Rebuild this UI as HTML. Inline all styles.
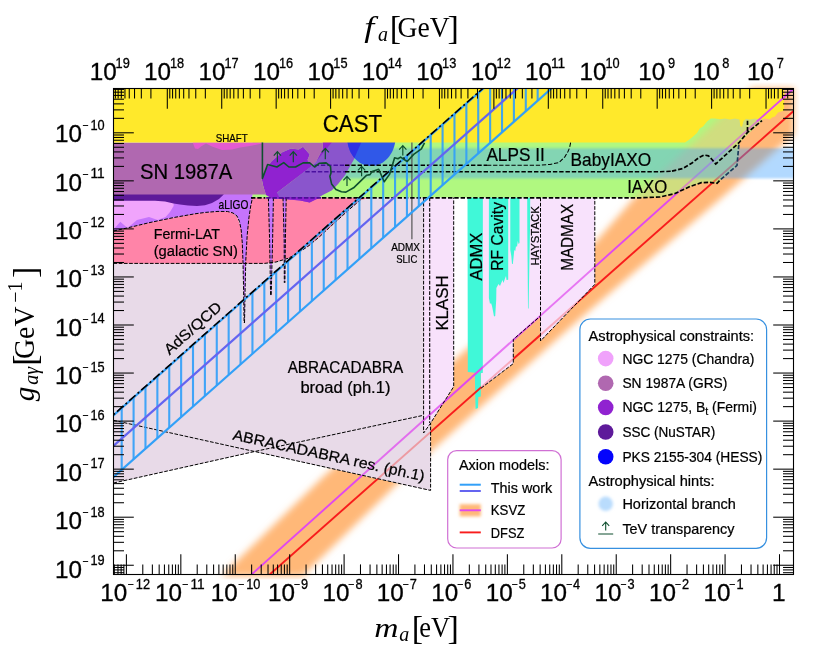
<!DOCTYPE html>
<html lang="en"><head><meta charset="utf-8"><title>Axion-photon coupling</title>
<style>
html,body{margin:0;padding:0;background:#fff;}
body{width:823px;height:654px;overflow:hidden;}
svg{display:block;font-family:'Liberation Sans', 'DejaVu Sans', sans-serif;}
.lbl text{stroke:#000;stroke-width:0.22px;}
</style></head><body>
<svg width="823" height="654" viewBox="0 0 823 654">
<defs>
<clipPath id="fr"><rect x="113.5" y="88.5" width="680.0" height="486.0"/></clipPath>
<clipPath id="fr2"><rect x="113.5" y="82.5" width="686.0" height="497.0"/></clipPath>
<filter id="b3" x="-5%" y="-5%" width="110%" height="110%"><feGaussianBlur stdDeviation="3.6"/></filter>
<filter id="b15" x="-5%" y="-20%" width="110%" height="140%"><feGaussianBlur stdDeviation="0 1.3"/></filter>
<filter id="b2" x="-30%" y="-30%" width="160%" height="160%"><feGaussianBlur stdDeviation="1.5"/></filter>
<clipPath id="cgreen"><polygon points="252.5,197.6 252.5,110.0 770.0,110.0 762.0,120.7 739.0,142.7 737.0,165.4 720.8,179.4 717.0,183.3 709.0,182.3 701.3,182.7 690.0,186.5 675.0,193.5 660.0,197.0 640.0,197.6"/></clipPath>
</defs>
<rect x="0" y="0" width="823" height="654" fill="#fff"/>
<g clip-path="url(#fr2)">
<polygon points="221.5,576.0 223.0,574.5 323.0,477.0 463.6,352.0 596.4,241.0 634.0,198.0 751.4,88.5 752.0,88.0 794.0,88.0 794.0,134.6 793.5,135.0 719.5,199.5 583.0,316.0 430.0,452.0 304.0,574.5 305.5,576.0" fill="#ffb878" filter="url(#b3)"/>
</g>
<g clip-path="url(#fr)">
<polygon points="113.5,197.6 423.6,197.6 423.6,433.0 430.6,423.5 430.6,490.4 254.7,451.5 113.5,483.0" fill="#e8dae8" />
<polygon points="423.6,197.6 453.7,197.6 453.7,386.6 430.4,423.5 423.6,433.0" fill="#f8e2fc" />
<polygon points="482.8,197.6 594.8,197.6 594.8,284.4 540.5,341.0 540.5,316.0 513.3,339.4 513.3,363.6 481.0,388.2 481.0,373.0 482.8,373.0" fill="#f8e2fc" />
<polygon points="467.5,197.6 483.0,197.6 483.0,372.8 480.8,373.5 480.8,396.6 478.3,397.0 478.0,408.0 475.6,409.0 475.3,397.0 474.8,372.8 467.8,372.0" fill="#40f8d8" />
<polyline points="249.4,592.4 800.0,105.3" fill="none" stroke="#f81c1c" stroke-width="1.9" />
<polygon points="113.5,197.6 423.6,197.6 423.6,433.0 430.6,423.5 430.6,490.4 254.7,451.5 113.5,483.0" fill="#e8dae8" fill-opacity="0.55"/>
<polygon points="423.6,197.6 453.7,197.6 453.7,386.6 430.4,423.5 423.6,433.0" fill="#f8e2fc" fill-opacity="0.6"/>
<polygon points="482.8,197.6 594.8,197.6 594.8,284.4 540.5,341.0 540.5,316.0 513.3,339.4 513.3,363.6 481.0,388.2 481.0,373.0 482.8,373.0" fill="#f8e2fc" fill-opacity="0.6"/>
<polyline points="231.4,592.6 800.0,82.9" fill="none" stroke="#e048f0" stroke-width="1.9" />
<polygon points="113.5,197.6 423.6,197.6 423.6,433.0 430.6,423.5 430.6,490.4 254.7,451.5 113.5,483.0" fill="#e8dae8" fill-opacity="0.25"/>
<polygon points="423.6,197.6 453.7,197.6 453.7,386.6 430.4,423.5 423.6,433.0" fill="#f8e2fc" fill-opacity="0.2"/>
<polygon points="482.8,197.6 594.8,197.6 594.8,284.4 540.5,341.0 540.5,316.0 513.3,339.4 513.3,363.6 481.0,388.2 481.0,373.0 482.8,373.0" fill="#f8e2fc" fill-opacity="0.3"/>
<polygon points="488.9,197.6 508.2,197.6 508.2,279.8 506.5,280.0 506.0,276.0 505.0,278.5 503.5,283.0 502.5,280.0 500.0,286.0 498.5,284.0 496.4,288.0 496.2,300.0 495.2,316.0 494.0,316.5 493.0,311.0 492.0,306.0 491.0,303.0 490.0,304.0 488.9,298.0" fill="#40f8d8" />
<polygon points="510.3,197.6 519.5,197.6 519.5,243.0 518.6,244.0 517.8,241.0 517.0,247.0 516.0,246.0 515.3,251.0 514.3,250.0 513.6,257.0 512.8,264.0 512.0,264.0 511.3,256.0 510.3,250.0" fill="#40f8d8" />
<polygon points="527.2,197.6 530.2,197.6 530.0,230.0 529.4,262.0 528.6,308.5 528.0,308.5 527.6,262.0 527.3,230.0" fill="#40f8d8" />
<polygon points="113.5,231.0 127.0,228.0 150.0,222.5 175.0,217.3 195.0,213.8 205.4,212.4 218.0,211.4 227.6,211.5 233.0,213.0 237.0,217.0 240.0,225.0 252.5,197.6 372.0,197.6 360.0,200.3 350.0,208.8 331.3,225.8 320.0,236.3 309.0,245.6 298.0,253.0 288.4,258.2 276.0,262.0 264.5,263.4 113.5,263.4" fill="#ff84a8" />
<polygon points="113.5,194.0 253.0,194.0 252.5,197.6 250.7,206.0 248.9,218.0 247.2,235.0 245.8,260.0 245.1,290.0 244.5,323.0 244.1,323.0 243.6,290.0 243.0,262.0 242.3,243.0 241.2,230.0 239.5,221.5 237.0,216.0 233.0,213.0 227.6,211.5 218.0,211.4 205.4,212.4 195.0,213.8 175.0,217.3 150.0,222.5 127.0,228.0 113.5,231.0" fill="#c574fc" />
<polygon points="268.4,197.6 273.4,197.6 272.6,240.0 271.3,295.4 270.7,295.4 269.6,240.0" fill="#c574fc" />
<polygon points="283.0,197.6 286.2,197.6 285.5,240.0 284.7,282.8 284.2,282.8 283.6,240.0" fill="#c574fc" />
<polygon points="113.5,198.0 173.6,198.0 173.6,206.0 170.0,212.0 165.6,217.0 157.7,220.0 149.0,217.0 137.0,220.0 127.5,228.0 120.3,221.8 113.5,229.5" fill="#f0a4fc" />
<polygon points="252.5,197.6 252.5,110.0 770.0,110.0 762.0,120.7 739.0,142.7 737.0,165.4 720.8,179.4 717.0,183.3 709.0,182.3 701.3,182.7 690.0,186.5 675.0,193.5 660.0,197.0 640.0,197.6" fill="#b0f880" />
<g clip-path="url(#cgreen)"><polygon points="221.5,576.0 223.0,574.5 323.0,477.0 463.6,352.0 596.4,241.0 634.0,198.0 751.4,88.5 752.0,88.0 794.0,88.0 794.0,134.6 793.5,135.0 719.5,199.5 583.0,316.0 430.0,452.0 304.0,574.5 305.5,576.0" fill="#fcb87c" fill-opacity="0.42" filter="url(#b3)"/></g>
<g clip-path="url(#cgreen)" opacity="0.55">
<polyline points="600.0,262.2 800.0,82.9" fill="none" stroke="#e048f0" stroke-width="1.9" />
<polyline points="600.0,282.3 800.0,105.3" fill="none" stroke="#f81c1c" stroke-width="1.9" />
</g>
<rect x="100" y="148.2" width="720" height="30.2" fill="#40a0ff" fill-opacity="0.4" filter="url(#b15)"/>
<polygon points="276.9,192.7 311.9,165.9 316.2,161.5 322.8,148.9 322.8,140.0 362.3,140.0 353.6,159.9 345.0,175.2 338.1,183.9 331.6,190.5 322.8,194.9 316.0,199.0 309.7,202.5 300.0,200.5 285.0,199.0 272.0,198.0" fill="#8a55cc" />
<polygon points="261.6,178.5 266.0,169.0 271.4,161.5 276.5,157.0 282.3,152.2 291.0,148.4 298.7,149.5 303.1,146.7 309.7,154.4 307.5,159.9 311.9,165.9 276.9,192.7 280.0,198.5 272.0,198.5 265.9,194.9 263.2,186.1" fill="#9022d0" />
<polygon points="322.8,140.0 333.7,140.0 316.2,161.5 322.8,148.9" fill="#9022d0" />
<polygon points="266.0,197.0 322.0,197.0 316.0,199.4 309.7,202.5 300.0,200.5 285.0,199.2 272.0,198.6" fill="#9022d0" />
<path d="M347.6,140 L347.6,142.4 C349,153 357,165.9 371.1,165.9 C385,165.9 393.5,153 395.1,142.4 L395.1,140 Z" fill="#3058e8"/>
<clipPath id="cblob"><path d="M347.6,140 L347.6,142.4 C349,153 357,165.9 371.1,165.9 C385,165.9 393.5,153 395.1,142.4 L395.1,140 Z"/></clipPath>
<g clip-path="url(#cblob)"><polygon points="340,140 362.3,140 353.6,159.9 345,175.2 340,175" fill="#3030e4"/></g>
<polygon points="113.5,190.0 223.7,190.0 223.7,194.4 219.0,199.0 212.0,203.0 205.0,205.3 197.0,206.0 188.0,205.6 180.0,204.6 173.6,203.6 165.0,201.6 155.0,200.8 113.5,200.7" fill="#5e1a9a" />
<polygon points="113.5,142.4 322.8,142.4 322.8,148.9 316.2,161.5 311.9,165.9 307.5,159.9 309.7,154.4 303.1,146.7 298.7,149.5 291.0,148.4 282.3,152.2 276.5,157.0 271.4,161.5 266.0,169.0 261.6,178.5 263.2,186.1 265.9,194.4 113.5,194.4" fill="#b068b0" />
<polygon points="192.7,142.4 262.0,142.4 262.0,143.5 250.0,146.0 240.0,147.5 232.0,149.5 222.0,150.0 212.0,146.5 206.0,143.5 201.0,146.5 198.0,149.0 195.0,148.5" fill="#e45ad0" />
<polygon points="113.5,80.0 784.0,80.0 784.0,110.5 781.0,111.5 778.0,112.5 775.0,116.5 772.0,117.5 770.0,119.2 765.0,118.6 760.0,119.6 755.0,118.6 750.0,119.5 746.0,118.8 743.5,121.0 742.0,127.0 740.3,126.0 739.5,119.5 735.0,118.6 730.0,119.4 725.0,118.4 720.0,119.3 715.0,118.6 710.8,118.6 707.0,121.5 703.0,126.5 699.7,128.6 697.0,133.0 692.0,137.5 688.0,140.5 685.0,142.4 113.5,142.4" fill="#ffe92b" />
</g>
<g clip-path="url(#fr)">
<polyline points="113.5,483.0 254.7,451.5 423.5,415.3" fill="none" stroke="#000" stroke-width="1.0" stroke-dasharray="3.7 1.5" />
<polyline points="113.5,420.3 430.6,490.4 430.6,423.0" fill="none" stroke="#000" stroke-width="1.0" stroke-dasharray="3.7 1.5" />
<polyline points="423.6,197.6 423.6,433.0 430.4,423.5 453.7,386.6 453.7,197.6" fill="none" stroke="#000" stroke-width="1.0" stroke-dasharray="3.7 1.5" />
<polyline points="429.7,197.6 429.7,423.0" fill="none" stroke="#000" stroke-width="1.1" stroke-dasharray="3.7 1.5" />
<polyline points="481.0,388.2 513.3,363.6 513.3,339.4 540.5,316.0" fill="none" stroke="#000" stroke-width="1.0" stroke-dasharray="3.7 1.5" />
<polyline points="540.5,197.6 540.5,341.0 594.8,284.4 594.8,197.6" fill="none" stroke="#000" stroke-width="1.0" stroke-dasharray="3.7 1.5" />
<polyline points="113.5,231.0 127.0,228.0 150.0,222.5 175.0,217.3 195.0,213.8 205.4,212.4 218.0,211.4 227.6,211.5 233.0,213.0 237.0,216.0 239.5,221.5 241.2,230.0 242.3,243.0 243.0,262.0 243.6,290.0 244.1,323.0" fill="none" stroke="#000" stroke-width="1.0" stroke-dasharray="3.7 1.5" />
<polyline points="244.5,323.0 245.1,290.0 245.8,260.0 247.2,235.0 248.9,218.0 250.7,206.0 252.5,197.6" fill="none" stroke="#000" stroke-width="1.0" stroke-dasharray="3.7 1.5" />
<polyline points="113.5,263.4 264.5,263.4 276.0,262.0 288.4,258.2 298.0,253.0 309.0,245.6 320.0,236.3 331.3,225.8 350.0,208.8 360.0,200.3 363.0,198.0" fill="none" stroke="#000" stroke-width="1.0" stroke-dasharray="3.7 1.5" />
<polyline points="268.4,197.6 269.6,240.0 270.6,295.4" fill="none" stroke="#000" stroke-width="1.0" stroke-dasharray="3.7 1.5" />
<polyline points="273.4,197.6 272.6,240.0 271.2,295.4" fill="none" stroke="#000" stroke-width="1.0" stroke-dasharray="3.7 1.5" />
<polyline points="283.0,197.6 284.2,240.0 284.3,282.8" fill="none" stroke="#000" stroke-width="1.0" stroke-dasharray="3.7 1.5" />
<polyline points="286.2,197.6 285.4,240.0 284.9,282.8" fill="none" stroke="#000" stroke-width="1.0" stroke-dasharray="3.7 1.5" />
<polyline points="411.9,142.4 411.9,239.2" fill="none" stroke="#555" stroke-width="1.2" />
<polyline points="251.0,197.8 265.3,197.8" fill="none" stroke="#000" stroke-width="1.7" stroke-dasharray="4.4 1.9" />
<polyline points="265.3,197.8 322.0,197.8" fill="none" stroke="#4b0f96" stroke-width="1.7" stroke-dasharray="4.4 1.9" stroke-dashoffset="-0.9"/>
<polyline points="322.0,197.8 640.0,197.8 660.0,197.0 675.0,193.5 690.0,186.5 701.3,182.7 709.0,182.3 717.0,183.3 720.8,179.4" fill="none" stroke="#000" stroke-width="1.7" stroke-dasharray="4.4 1.9" />
<polyline points="720.8,179.4 737.0,165.4 739.0,142.7" fill="none" stroke="#1a3c5c" stroke-width="1.7" stroke-dasharray="4.4 1.9" />
<polyline points="305.3,171.7 345.0,171.7" fill="none" stroke="#4a10a0" stroke-width="1.6" stroke-dasharray="4.4 1.9" />
<polyline points="345.0,171.7 660.0,171.7 672.0,171.2" fill="none" stroke="#000" stroke-width="1.55" stroke-dasharray="4.4 1.9" />
<polyline points="672.0,171.2 683.0,168.5 692.0,163.0 699.0,157.5 704.0,155.0 708.5,155.8 712.0,159.5 715.7,164.0 739.0,142.7 747.5,132.4 762.0,120.7" fill="none" stroke="#000" stroke-width="1.7" stroke-dasharray="4.4 1.9" />
<polyline points="747.5,120.7 747.5,132.4" fill="none" stroke="#000" stroke-width="1.7" stroke-dasharray="4.4 1.9" />
<polyline points="314.6,165.2 345.0,165.2" fill="none" stroke="#4a10a0" stroke-width="1.6" stroke-dasharray="4.4 1.9" />
<polyline points="345.0,165.2 487.0,165.2" fill="none" stroke="#000" stroke-width="1.6" stroke-dasharray="4.4 1.9" />
<polyline points="487.0,165.2 540.0,165.2 550.0,164.4 559.0,162.5 565.0,156.6 568.0,151.5 569.5,148.0 570.7,142.4" fill="none" stroke="#000" stroke-width="1.05" stroke-dasharray="4.3 1.8" />
<polyline points="757.0,121.4 800.0,82.9" fill="none" stroke="#e048f0" stroke-width="1.8" />
<g stroke="#32a0f8" stroke-width="2.1" stroke-opacity="0.92">
<line x1="121.70" y1="408.1" x2="121.70" y2="469.7"/>
<line x1="133.59" y1="397.6" x2="133.59" y2="459.2"/>
<line x1="145.47" y1="387.1" x2="145.47" y2="448.6"/>
<line x1="157.36" y1="376.6" x2="157.36" y2="438.1"/>
<line x1="169.24" y1="366.1" x2="169.24" y2="427.5"/>
<line x1="181.12" y1="355.6" x2="181.12" y2="417.0"/>
<line x1="193.01" y1="345.1" x2="193.01" y2="406.5"/>
<line x1="204.89" y1="334.6" x2="204.89" y2="395.9"/>
<line x1="216.78" y1="324.1" x2="216.78" y2="385.4"/>
<line x1="228.67" y1="313.6" x2="228.67" y2="374.8"/>
<line x1="240.55" y1="303.1" x2="240.55" y2="364.3"/>
<line x1="252.44" y1="292.6" x2="252.44" y2="353.7"/>
<line x1="264.32" y1="282.1" x2="264.32" y2="343.2"/>
<line x1="276.20" y1="271.6" x2="276.20" y2="332.6"/>
<line x1="288.09" y1="261.0" x2="288.09" y2="322.1"/>
<line x1="299.98" y1="250.5" x2="299.98" y2="311.6"/>
<line x1="311.86" y1="240.0" x2="311.86" y2="301.0"/>
<line x1="323.75" y1="229.5" x2="323.75" y2="290.5"/>
<line x1="335.63" y1="219.0" x2="335.63" y2="279.9"/>
<line x1="347.51" y1="208.5" x2="347.51" y2="269.4"/>
<line x1="359.40" y1="198.0" x2="359.40" y2="258.8"/>
<line x1="371.29" y1="187.5" x2="371.29" y2="248.3"/>
<line x1="383.17" y1="177.0" x2="383.17" y2="237.7"/>
<line x1="395.06" y1="166.5" x2="395.06" y2="227.2"/>
<line x1="406.94" y1="156.0" x2="406.94" y2="216.7"/>
<line x1="418.82" y1="145.5" x2="418.82" y2="206.1"/>
<line x1="430.71" y1="135.0" x2="430.71" y2="195.6"/>
<line x1="442.59" y1="124.5" x2="442.59" y2="185.0"/>
<line x1="454.48" y1="114.0" x2="454.48" y2="174.5"/>
<line x1="466.37" y1="103.5" x2="466.37" y2="163.9"/>
<line x1="478.25" y1="93.0" x2="478.25" y2="153.4"/>
<line x1="490.13" y1="82.5" x2="490.13" y2="142.8"/>
<line x1="502.02" y1="72.0" x2="502.02" y2="132.3"/>
<line x1="513.90" y1="61.5" x2="513.90" y2="121.8"/>
<line x1="525.79" y1="51.0" x2="525.79" y2="111.2"/>
<line x1="537.67" y1="40.5" x2="537.67" y2="100.7"/>
<line x1="549.56" y1="30.0" x2="549.56" y2="90.1"/>
</g>
<polyline points="100.0,457.7 560.0,50.8" fill="none" stroke="#6464f0" stroke-width="2.2" />
<polyline points="100.0,427.2 520.0,56.2" fill="none" stroke="#32a0f8" stroke-width="2.2" />
<polyline points="100.0,489.0 600.0,45.4" fill="none" stroke="#32a0f8" stroke-width="2.2" />
<polyline points="105.0,422.2 520.0,55.6" fill="none" stroke="#000" stroke-width="1.6" stroke-dasharray="8.5 2.8 2 2.8" />
<polyline points="262.4,142.4 262.4,178.5 267.6,164.6 276.9,167.0 283.7,162.6 288.9,167.0 295.5,167.0 303.1,162.9 309.7,162.9 314.6,167.0 319.5,163.2 326.1,162.9 330.5,166.4 331.0,173.0 329.9,176.3 331.6,183.9 335.9,189.4 341.4,191.8 345.9,192.1 353.6,187.8 366.7,175.2 370.0,174.6 372.2,171.4 378.7,169.2 384.2,181.7 389.7,174.1 394.6,157.7 397.9,158.8 400.6,157.1 407.2,161.5 413.7,154.4 421.4,148.9 424.5,142.8" fill="none" stroke="#0e4f2e" stroke-width="1.6" stroke-linejoin="round"/>
<path d="M277.4,162.3 V151.7 M273.8,155.7 L277.4,151.7 L281.0,155.7" fill="none" stroke="#0e4f2e" stroke-width="1.2"/>
<path d="M293.3,162.3 V151.7 M289.7,155.7 L293.3,151.7 L296.9,155.7" fill="none" stroke="#0e4f2e" stroke-width="1.2"/>
<path d="M325.3,159.3 V148.4 M321.7,152.4 L325.3,148.4 L328.9,152.4" fill="none" stroke="#0e4f2e" stroke-width="1.2"/>
<path d="M347.0,186.1 V176.3 M343.4,180.3 L347.0,176.3 L350.6,180.3" fill="none" stroke="#0e4f2e" stroke-width="1.2"/>
<path d="M361.6,176.3 V166.4 M358.0,170.4 L361.6,166.4 L365.2,170.4" fill="none" stroke="#0e4f2e" stroke-width="1.2"/>
<path d="M402.8,155.5 V145.7 M399.2,149.7 L402.8,145.7 L406.4,149.7" fill="none" stroke="#0e4f2e" stroke-width="1.2"/>
</g>
<g class="lbl">
<text x="322.7" y="132.3" font-size="24.5" textLength="59.5" lengthAdjust="spacingAndGlyphs" stroke="#000" stroke-width="0.45">CAST</text>
<text x="139.9" y="179.4" font-size="21.4" textLength="92.5" lengthAdjust="spacingAndGlyphs" >SN 1987A</text>
<text x="215.8" y="141.6" font-size="11.2" textLength="31.9" lengthAdjust="spacingAndGlyphs" stroke="#000" stroke-width="0.2">SHAFT</text>
<text x="218.5" y="208.5" font-size="12.2" textLength="29.9" lengthAdjust="spacingAndGlyphs" stroke="#000" stroke-width="0.2">aLIGO</text>
<text x="153.7" y="238.6" font-size="15.2" textLength="66.3" lengthAdjust="spacingAndGlyphs" >Fermi-LAT</text>
<text x="153.7" y="256.2" font-size="15.2" textLength="84.3" lengthAdjust="spacingAndGlyphs" >(galactic SN)</text>
<text x="169.5" y="355.5" font-size="15" textLength="71.0" lengthAdjust="spacingAndGlyphs" transform="rotate(-41.5 169.5 355.5)" >AdS/QCD</text>
<text x="345.4" y="372.6" font-size="15.8" text-anchor="middle" textLength="115.5" lengthAdjust="spacingAndGlyphs" >ABRACADABRA</text>
<text x="345.4" y="392.7" font-size="15.8" text-anchor="middle" textLength="90.0" lengthAdjust="spacingAndGlyphs" >broad (ph.1)</text>
<text x="232.0" y="439.5" font-size="15" textLength="196.0" lengthAdjust="spacingAndGlyphs" transform="rotate(12.3 232.0 439.5)" >ABRACADABRA res. (ph.1)</text>
<text x="405.6" y="251.4" font-size="10.8" text-anchor="middle" textLength="28.9" lengthAdjust="spacingAndGlyphs" stroke="#000" stroke-width="0.2">ADMX</text>
<text x="406.7" y="263.3" font-size="10.8" text-anchor="middle" textLength="21.1" lengthAdjust="spacingAndGlyphs" stroke="#000" stroke-width="0.2">SLIC</text>
<text x="447.7" y="330.6" font-size="17" textLength="55.2" lengthAdjust="spacingAndGlyphs" transform="rotate(-90 447.7 330.6)" >KLASH</text>
<text x="481.8" y="280.4" font-size="17" textLength="47.7" lengthAdjust="spacingAndGlyphs" transform="rotate(-90 481.8 280.4)" >ADMX</text>
<text x="503.3" y="270.8" font-size="16.6" textLength="68.8" lengthAdjust="spacingAndGlyphs" transform="rotate(-90 503.3 270.8)" >RF Cavity</text>
<text x="539.2" y="265.6" font-size="11.8" textLength="59.3" lengthAdjust="spacingAndGlyphs" transform="rotate(-90 539.2 265.6)" stroke="#000" stroke-width="0.15">HAYSTACK</text>
<text x="573.4" y="270.8" font-size="16" textLength="67.0" lengthAdjust="spacingAndGlyphs" transform="rotate(-90 573.4 270.8)" >MADMAX</text>
<text x="486.4" y="161.4" font-size="18.4" textLength="58.3" lengthAdjust="spacingAndGlyphs" >ALPS II</text>
<text x="570.5" y="166.2" font-size="18.2" textLength="80.7" lengthAdjust="spacingAndGlyphs" >BabyIAXO</text>
<text x="627.2" y="193.3" font-size="18.4" textLength="40.0" lengthAdjust="spacingAndGlyphs" >IAXO</text>
<rect x="447.7" y="450.6" width="113.4" height="97.4" rx="9" ry="9" fill="#fff" stroke="#d070d4" stroke-width="1.2"/>
<text x="459.0" y="470.2" font-size="14.6" textLength="90.5" lengthAdjust="spacingAndGlyphs" >Axion models:</text>
<text x="490.8" y="492.8" font-size="14.6" textLength="61.5" lengthAdjust="spacingAndGlyphs" >This work</text>
<text x="490.8" y="515.4" font-size="14.6" textLength="34.5" lengthAdjust="spacingAndGlyphs" >KSVZ</text>
<text x="490.8" y="538.0" font-size="14.6" textLength="33.5" lengthAdjust="spacingAndGlyphs" >DFSZ</text>
<polyline points="459.7,484.7 480.8,484.7" fill="none" stroke="#32a0f8" stroke-width="2" />
<polyline points="459.7,491.0 480.8,491.0" fill="none" stroke="#6464f0" stroke-width="2" />
<rect x="459.7" y="504.2" width="21.1" height="12.2" fill="#ffb878" filter="url(#b2)"/>
<polyline points="459.7,510.3 480.8,510.3" fill="none" stroke="#e048f0" stroke-width="1.9" />
<polyline points="459.7,532.4 480.8,532.4" fill="none" stroke="#f81c1c" stroke-width="1.9" />
<rect x="579.9" y="319" width="186.7" height="229.3" rx="10.5" ry="10.5" fill="#fff" stroke="#3690e0" stroke-width="1.2"/>
<text x="588.6" y="340.5" font-size="14.3" textLength="165.5" lengthAdjust="spacingAndGlyphs" >Astrophysical constraints:</text>
<circle cx="605.7" cy="358.6" r="7.8" fill="#f0a2fb"/>
<text x="622.4" y="363.6" font-size="14.3" textLength="132.0" lengthAdjust="spacingAndGlyphs" >NGC 1275 (Chandra)</text>
<circle cx="605.7" cy="383.2" r="7.8" fill="#b068b0"/>
<text x="622.4" y="388.2" font-size="14.3" textLength="105.0" lengthAdjust="spacingAndGlyphs" >SN 1987A (GRS)</text>
<circle cx="605.7" cy="407.4" r="7.8" fill="#9022d0"/>
<circle cx="605.7" cy="432.0" r="7.8" fill="#5e1a9a"/>
<text x="622.4" y="437.0" font-size="14.3" textLength="93.0" lengthAdjust="spacingAndGlyphs" >SSC (NuSTAR)</text>
<circle cx="605.7" cy="456.7" r="7.8" fill="#0404fc"/>
<text x="622.4" y="461.7" font-size="14.3" textLength="140.0" lengthAdjust="spacingAndGlyphs" >PKS 2155-304 (HESS)</text>
<text x="622.4" y="412.4" font-size="14.3" textLength="134.5" lengthAdjust="spacingAndGlyphs">NGC 1275, B<tspan font-size="11" dy="3">t</tspan><tspan dy="-3"> (Fermi)</tspan></text>
<text x="588.6" y="485.5" font-size="14.3" textLength="126.0" lengthAdjust="spacingAndGlyphs" >Astrophysical hints:</text>
<circle cx="605.7" cy="503.8" r="7.2" fill="#b9dcfd" filter="url(#b2)"/>
<text x="622.4" y="508.6" font-size="14.3" textLength="113.5" lengthAdjust="spacingAndGlyphs" >Horizontal branch</text>
<text x="622.4" y="533.6" font-size="14.3" textLength="112.0" lengthAdjust="spacingAndGlyphs" >TeV transparency</text>
<path d="M598.2,534 H613.2 M605.7,530.5 V522 M602.2,525.8 L605.7,522 L609.2,525.8" fill="none" stroke="#0e4f2e" stroke-width="1.1"/>
</g>
<g stroke="#000" stroke-width="1.05" fill="none">
<line x1="114.33" y1="574.5" x2="114.33" y2="564.4"/>
<line x1="117.97" y1="574.5" x2="117.97" y2="564.4"/>
<line x1="121.13" y1="574.5" x2="121.13" y2="564.4"/>
<line x1="123.91" y1="574.5" x2="123.91" y2="564.4"/>
<line x1="126.40" y1="574.5" x2="126.40" y2="554.2"/>
<line x1="142.78" y1="574.5" x2="142.78" y2="564.4"/>
<line x1="152.37" y1="574.5" x2="152.37" y2="564.4"/>
<line x1="159.17" y1="574.5" x2="159.17" y2="564.4"/>
<line x1="164.44" y1="574.5" x2="164.44" y2="564.4"/>
<line x1="168.75" y1="574.5" x2="168.75" y2="564.4"/>
<line x1="172.39" y1="574.5" x2="172.39" y2="564.4"/>
<line x1="175.55" y1="574.5" x2="175.55" y2="564.4"/>
<line x1="178.33" y1="574.5" x2="178.33" y2="564.4"/>
<line x1="180.83" y1="574.5" x2="180.83" y2="554.2"/>
<line x1="197.21" y1="574.5" x2="197.21" y2="564.4"/>
<line x1="206.79" y1="574.5" x2="206.79" y2="564.4"/>
<line x1="213.59" y1="574.5" x2="213.59" y2="564.4"/>
<line x1="218.87" y1="574.5" x2="218.87" y2="564.4"/>
<line x1="223.18" y1="574.5" x2="223.18" y2="564.4"/>
<line x1="226.82" y1="574.5" x2="226.82" y2="564.4"/>
<line x1="229.98" y1="574.5" x2="229.98" y2="564.4"/>
<line x1="232.76" y1="574.5" x2="232.76" y2="564.4"/>
<line x1="235.25" y1="574.5" x2="235.25" y2="554.2"/>
<line x1="251.63" y1="574.5" x2="251.63" y2="564.4"/>
<line x1="261.22" y1="574.5" x2="261.22" y2="564.4"/>
<line x1="268.02" y1="574.5" x2="268.02" y2="564.4"/>
<line x1="273.29" y1="574.5" x2="273.29" y2="564.4"/>
<line x1="277.60" y1="574.5" x2="277.60" y2="564.4"/>
<line x1="281.24" y1="574.5" x2="281.24" y2="564.4"/>
<line x1="284.40" y1="574.5" x2="284.40" y2="564.4"/>
<line x1="287.18" y1="574.5" x2="287.18" y2="564.4"/>
<line x1="289.68" y1="574.5" x2="289.68" y2="554.2"/>
<line x1="306.06" y1="574.5" x2="306.06" y2="564.4"/>
<line x1="315.64" y1="574.5" x2="315.64" y2="564.4"/>
<line x1="322.44" y1="574.5" x2="322.44" y2="564.4"/>
<line x1="327.72" y1="574.5" x2="327.72" y2="564.4"/>
<line x1="332.03" y1="574.5" x2="332.03" y2="564.4"/>
<line x1="335.67" y1="574.5" x2="335.67" y2="564.4"/>
<line x1="338.83" y1="574.5" x2="338.83" y2="564.4"/>
<line x1="341.61" y1="574.5" x2="341.61" y2="564.4"/>
<line x1="344.10" y1="574.5" x2="344.10" y2="554.2"/>
<line x1="360.48" y1="574.5" x2="360.48" y2="564.4"/>
<line x1="370.07" y1="574.5" x2="370.07" y2="564.4"/>
<line x1="376.87" y1="574.5" x2="376.87" y2="564.4"/>
<line x1="382.14" y1="574.5" x2="382.14" y2="564.4"/>
<line x1="386.45" y1="574.5" x2="386.45" y2="564.4"/>
<line x1="390.09" y1="574.5" x2="390.09" y2="564.4"/>
<line x1="393.25" y1="574.5" x2="393.25" y2="564.4"/>
<line x1="396.03" y1="574.5" x2="396.03" y2="564.4"/>
<line x1="398.53" y1="574.5" x2="398.53" y2="554.2"/>
<line x1="414.91" y1="574.5" x2="414.91" y2="564.4"/>
<line x1="424.49" y1="574.5" x2="424.49" y2="564.4"/>
<line x1="431.29" y1="574.5" x2="431.29" y2="564.4"/>
<line x1="436.57" y1="574.5" x2="436.57" y2="564.4"/>
<line x1="440.88" y1="574.5" x2="440.88" y2="564.4"/>
<line x1="444.52" y1="574.5" x2="444.52" y2="564.4"/>
<line x1="447.68" y1="574.5" x2="447.68" y2="564.4"/>
<line x1="450.46" y1="574.5" x2="450.46" y2="564.4"/>
<line x1="452.95" y1="574.5" x2="452.95" y2="554.2"/>
<line x1="469.33" y1="574.5" x2="469.33" y2="564.4"/>
<line x1="478.92" y1="574.5" x2="478.92" y2="564.4"/>
<line x1="485.72" y1="574.5" x2="485.72" y2="564.4"/>
<line x1="490.99" y1="574.5" x2="490.99" y2="564.4"/>
<line x1="495.30" y1="574.5" x2="495.30" y2="564.4"/>
<line x1="498.94" y1="574.5" x2="498.94" y2="564.4"/>
<line x1="502.10" y1="574.5" x2="502.10" y2="564.4"/>
<line x1="504.88" y1="574.5" x2="504.88" y2="564.4"/>
<line x1="507.38" y1="574.5" x2="507.38" y2="554.2"/>
<line x1="523.76" y1="574.5" x2="523.76" y2="564.4"/>
<line x1="533.34" y1="574.5" x2="533.34" y2="564.4"/>
<line x1="540.14" y1="574.5" x2="540.14" y2="564.4"/>
<line x1="545.42" y1="574.5" x2="545.42" y2="564.4"/>
<line x1="549.73" y1="574.5" x2="549.73" y2="564.4"/>
<line x1="553.37" y1="574.5" x2="553.37" y2="564.4"/>
<line x1="556.53" y1="574.5" x2="556.53" y2="564.4"/>
<line x1="559.31" y1="574.5" x2="559.31" y2="564.4"/>
<line x1="561.80" y1="574.5" x2="561.80" y2="554.2"/>
<line x1="578.18" y1="574.5" x2="578.18" y2="564.4"/>
<line x1="587.77" y1="574.5" x2="587.77" y2="564.4"/>
<line x1="594.57" y1="574.5" x2="594.57" y2="564.4"/>
<line x1="599.84" y1="574.5" x2="599.84" y2="564.4"/>
<line x1="604.15" y1="574.5" x2="604.15" y2="564.4"/>
<line x1="607.79" y1="574.5" x2="607.79" y2="564.4"/>
<line x1="610.95" y1="574.5" x2="610.95" y2="564.4"/>
<line x1="613.73" y1="574.5" x2="613.73" y2="564.4"/>
<line x1="616.23" y1="574.5" x2="616.23" y2="554.2"/>
<line x1="632.61" y1="574.5" x2="632.61" y2="564.4"/>
<line x1="642.19" y1="574.5" x2="642.19" y2="564.4"/>
<line x1="648.99" y1="574.5" x2="648.99" y2="564.4"/>
<line x1="654.27" y1="574.5" x2="654.27" y2="564.4"/>
<line x1="658.58" y1="574.5" x2="658.58" y2="564.4"/>
<line x1="662.22" y1="574.5" x2="662.22" y2="564.4"/>
<line x1="665.38" y1="574.5" x2="665.38" y2="564.4"/>
<line x1="668.16" y1="574.5" x2="668.16" y2="564.4"/>
<line x1="670.65" y1="574.5" x2="670.65" y2="554.2"/>
<line x1="687.03" y1="574.5" x2="687.03" y2="564.4"/>
<line x1="696.62" y1="574.5" x2="696.62" y2="564.4"/>
<line x1="703.42" y1="574.5" x2="703.42" y2="564.4"/>
<line x1="708.69" y1="574.5" x2="708.69" y2="564.4"/>
<line x1="713.00" y1="574.5" x2="713.00" y2="564.4"/>
<line x1="716.64" y1="574.5" x2="716.64" y2="564.4"/>
<line x1="719.80" y1="574.5" x2="719.80" y2="564.4"/>
<line x1="722.58" y1="574.5" x2="722.58" y2="564.4"/>
<line x1="725.08" y1="574.5" x2="725.08" y2="554.2"/>
<line x1="741.46" y1="574.5" x2="741.46" y2="564.4"/>
<line x1="751.04" y1="574.5" x2="751.04" y2="564.4"/>
<line x1="757.84" y1="574.5" x2="757.84" y2="564.4"/>
<line x1="763.12" y1="574.5" x2="763.12" y2="564.4"/>
<line x1="767.43" y1="574.5" x2="767.43" y2="564.4"/>
<line x1="771.07" y1="574.5" x2="771.07" y2="564.4"/>
<line x1="774.23" y1="574.5" x2="774.23" y2="564.4"/>
<line x1="777.01" y1="574.5" x2="777.01" y2="564.4"/>
<line x1="779.50" y1="574.5" x2="779.50" y2="554.2"/>
<line x1="787.69" y1="88.5" x2="787.69" y2="98.6"/>
<line x1="782.42" y1="88.5" x2="782.42" y2="98.6"/>
<line x1="778.11" y1="88.5" x2="778.11" y2="98.6"/>
<line x1="774.46" y1="88.5" x2="774.46" y2="98.6"/>
<line x1="771.30" y1="88.5" x2="771.30" y2="98.6"/>
<line x1="768.52" y1="88.5" x2="768.52" y2="98.6"/>
<line x1="766.03" y1="88.5" x2="766.03" y2="108.8"/>
<line x1="749.64" y1="88.5" x2="749.64" y2="98.6"/>
<line x1="740.06" y1="88.5" x2="740.06" y2="98.6"/>
<line x1="733.26" y1="88.5" x2="733.26" y2="98.6"/>
<line x1="727.99" y1="88.5" x2="727.99" y2="98.6"/>
<line x1="723.68" y1="88.5" x2="723.68" y2="98.6"/>
<line x1="720.03" y1="88.5" x2="720.03" y2="98.6"/>
<line x1="716.87" y1="88.5" x2="716.87" y2="98.6"/>
<line x1="714.09" y1="88.5" x2="714.09" y2="98.6"/>
<line x1="711.60" y1="88.5" x2="711.60" y2="108.8"/>
<line x1="695.21" y1="88.5" x2="695.21" y2="98.6"/>
<line x1="685.63" y1="88.5" x2="685.63" y2="98.6"/>
<line x1="678.83" y1="88.5" x2="678.83" y2="98.6"/>
<line x1="673.56" y1="88.5" x2="673.56" y2="98.6"/>
<line x1="669.25" y1="88.5" x2="669.25" y2="98.6"/>
<line x1="665.60" y1="88.5" x2="665.60" y2="98.6"/>
<line x1="662.44" y1="88.5" x2="662.44" y2="98.6"/>
<line x1="659.66" y1="88.5" x2="659.66" y2="98.6"/>
<line x1="657.17" y1="88.5" x2="657.17" y2="108.8"/>
<line x1="640.78" y1="88.5" x2="640.78" y2="98.6"/>
<line x1="631.20" y1="88.5" x2="631.20" y2="98.6"/>
<line x1="624.40" y1="88.5" x2="624.40" y2="98.6"/>
<line x1="619.13" y1="88.5" x2="619.13" y2="98.6"/>
<line x1="614.82" y1="88.5" x2="614.82" y2="98.6"/>
<line x1="611.17" y1="88.5" x2="611.17" y2="98.6"/>
<line x1="608.01" y1="88.5" x2="608.01" y2="98.6"/>
<line x1="605.23" y1="88.5" x2="605.23" y2="98.6"/>
<line x1="602.74" y1="88.5" x2="602.74" y2="108.8"/>
<line x1="586.35" y1="88.5" x2="586.35" y2="98.6"/>
<line x1="576.77" y1="88.5" x2="576.77" y2="98.6"/>
<line x1="569.97" y1="88.5" x2="569.97" y2="98.6"/>
<line x1="564.70" y1="88.5" x2="564.70" y2="98.6"/>
<line x1="560.39" y1="88.5" x2="560.39" y2="98.6"/>
<line x1="556.74" y1="88.5" x2="556.74" y2="98.6"/>
<line x1="553.58" y1="88.5" x2="553.58" y2="98.6"/>
<line x1="550.80" y1="88.5" x2="550.80" y2="98.6"/>
<line x1="548.31" y1="88.5" x2="548.31" y2="108.8"/>
<line x1="531.92" y1="88.5" x2="531.92" y2="98.6"/>
<line x1="522.34" y1="88.5" x2="522.34" y2="98.6"/>
<line x1="515.54" y1="88.5" x2="515.54" y2="98.6"/>
<line x1="510.27" y1="88.5" x2="510.27" y2="98.6"/>
<line x1="505.96" y1="88.5" x2="505.96" y2="98.6"/>
<line x1="502.31" y1="88.5" x2="502.31" y2="98.6"/>
<line x1="499.15" y1="88.5" x2="499.15" y2="98.6"/>
<line x1="496.37" y1="88.5" x2="496.37" y2="98.6"/>
<line x1="493.88" y1="88.5" x2="493.88" y2="108.8"/>
<line x1="477.49" y1="88.5" x2="477.49" y2="98.6"/>
<line x1="467.91" y1="88.5" x2="467.91" y2="98.6"/>
<line x1="461.11" y1="88.5" x2="461.11" y2="98.6"/>
<line x1="455.84" y1="88.5" x2="455.84" y2="98.6"/>
<line x1="451.53" y1="88.5" x2="451.53" y2="98.6"/>
<line x1="447.88" y1="88.5" x2="447.88" y2="98.6"/>
<line x1="444.72" y1="88.5" x2="444.72" y2="98.6"/>
<line x1="441.94" y1="88.5" x2="441.94" y2="98.6"/>
<line x1="439.45" y1="88.5" x2="439.45" y2="108.8"/>
<line x1="423.06" y1="88.5" x2="423.06" y2="98.6"/>
<line x1="413.48" y1="88.5" x2="413.48" y2="98.6"/>
<line x1="406.68" y1="88.5" x2="406.68" y2="98.6"/>
<line x1="401.41" y1="88.5" x2="401.41" y2="98.6"/>
<line x1="397.10" y1="88.5" x2="397.10" y2="98.6"/>
<line x1="393.45" y1="88.5" x2="393.45" y2="98.6"/>
<line x1="390.29" y1="88.5" x2="390.29" y2="98.6"/>
<line x1="387.51" y1="88.5" x2="387.51" y2="98.6"/>
<line x1="385.02" y1="88.5" x2="385.02" y2="108.8"/>
<line x1="368.63" y1="88.5" x2="368.63" y2="98.6"/>
<line x1="359.05" y1="88.5" x2="359.05" y2="98.6"/>
<line x1="352.25" y1="88.5" x2="352.25" y2="98.6"/>
<line x1="346.98" y1="88.5" x2="346.98" y2="98.6"/>
<line x1="342.67" y1="88.5" x2="342.67" y2="98.6"/>
<line x1="339.02" y1="88.5" x2="339.02" y2="98.6"/>
<line x1="335.86" y1="88.5" x2="335.86" y2="98.6"/>
<line x1="333.08" y1="88.5" x2="333.08" y2="98.6"/>
<line x1="330.59" y1="88.5" x2="330.59" y2="108.8"/>
<line x1="314.20" y1="88.5" x2="314.20" y2="98.6"/>
<line x1="304.62" y1="88.5" x2="304.62" y2="98.6"/>
<line x1="297.82" y1="88.5" x2="297.82" y2="98.6"/>
<line x1="292.55" y1="88.5" x2="292.55" y2="98.6"/>
<line x1="288.24" y1="88.5" x2="288.24" y2="98.6"/>
<line x1="284.59" y1="88.5" x2="284.59" y2="98.6"/>
<line x1="281.43" y1="88.5" x2="281.43" y2="98.6"/>
<line x1="278.65" y1="88.5" x2="278.65" y2="98.6"/>
<line x1="276.16" y1="88.5" x2="276.16" y2="108.8"/>
<line x1="259.77" y1="88.5" x2="259.77" y2="98.6"/>
<line x1="250.19" y1="88.5" x2="250.19" y2="98.6"/>
<line x1="243.39" y1="88.5" x2="243.39" y2="98.6"/>
<line x1="238.12" y1="88.5" x2="238.12" y2="98.6"/>
<line x1="233.81" y1="88.5" x2="233.81" y2="98.6"/>
<line x1="230.16" y1="88.5" x2="230.16" y2="98.6"/>
<line x1="227.00" y1="88.5" x2="227.00" y2="98.6"/>
<line x1="224.22" y1="88.5" x2="224.22" y2="98.6"/>
<line x1="221.73" y1="88.5" x2="221.73" y2="108.8"/>
<line x1="205.34" y1="88.5" x2="205.34" y2="98.6"/>
<line x1="195.76" y1="88.5" x2="195.76" y2="98.6"/>
<line x1="188.96" y1="88.5" x2="188.96" y2="98.6"/>
<line x1="183.69" y1="88.5" x2="183.69" y2="98.6"/>
<line x1="179.38" y1="88.5" x2="179.38" y2="98.6"/>
<line x1="175.73" y1="88.5" x2="175.73" y2="98.6"/>
<line x1="172.57" y1="88.5" x2="172.57" y2="98.6"/>
<line x1="169.79" y1="88.5" x2="169.79" y2="98.6"/>
<line x1="167.30" y1="88.5" x2="167.30" y2="108.8"/>
<line x1="150.91" y1="88.5" x2="150.91" y2="98.6"/>
<line x1="141.33" y1="88.5" x2="141.33" y2="98.6"/>
<line x1="134.53" y1="88.5" x2="134.53" y2="98.6"/>
<line x1="129.26" y1="88.5" x2="129.26" y2="98.6"/>
<line x1="124.95" y1="88.5" x2="124.95" y2="98.6"/>
<line x1="121.30" y1="88.5" x2="121.30" y2="98.6"/>
<line x1="118.14" y1="88.5" x2="118.14" y2="98.6"/>
<line x1="115.36" y1="88.5" x2="115.36" y2="98.6"/>
<line x1="113.5" y1="572.69" x2="124.0" y2="572.69"/>
<line x1="793.5" y1="572.69" x2="783.0" y2="572.69"/>
<line x1="113.5" y1="569.91" x2="124.0" y2="569.91"/>
<line x1="793.5" y1="569.91" x2="783.0" y2="569.91"/>
<line x1="113.5" y1="567.45" x2="124.0" y2="567.45"/>
<line x1="793.5" y1="567.45" x2="783.0" y2="567.45"/>
<line x1="113.5" y1="565.25" x2="133.8" y2="565.25"/>
<line x1="793.5" y1="565.25" x2="773.2" y2="565.25"/>
<line x1="113.5" y1="550.79" x2="124.0" y2="550.79"/>
<line x1="793.5" y1="550.79" x2="783.0" y2="550.79"/>
<line x1="113.5" y1="542.32" x2="124.0" y2="542.32"/>
<line x1="793.5" y1="542.32" x2="783.0" y2="542.32"/>
<line x1="113.5" y1="536.32" x2="124.0" y2="536.32"/>
<line x1="793.5" y1="536.32" x2="783.0" y2="536.32"/>
<line x1="113.5" y1="531.66" x2="124.0" y2="531.66"/>
<line x1="793.5" y1="531.66" x2="783.0" y2="531.66"/>
<line x1="113.5" y1="527.86" x2="124.0" y2="527.86"/>
<line x1="793.5" y1="527.86" x2="783.0" y2="527.86"/>
<line x1="113.5" y1="524.64" x2="124.0" y2="524.64"/>
<line x1="793.5" y1="524.64" x2="783.0" y2="524.64"/>
<line x1="113.5" y1="521.86" x2="124.0" y2="521.86"/>
<line x1="793.5" y1="521.86" x2="783.0" y2="521.86"/>
<line x1="113.5" y1="519.40" x2="124.0" y2="519.40"/>
<line x1="793.5" y1="519.40" x2="783.0" y2="519.40"/>
<line x1="113.5" y1="517.20" x2="133.8" y2="517.20"/>
<line x1="793.5" y1="517.20" x2="773.2" y2="517.20"/>
<line x1="113.5" y1="502.74" x2="124.0" y2="502.74"/>
<line x1="793.5" y1="502.74" x2="783.0" y2="502.74"/>
<line x1="113.5" y1="494.27" x2="124.0" y2="494.27"/>
<line x1="793.5" y1="494.27" x2="783.0" y2="494.27"/>
<line x1="113.5" y1="488.27" x2="124.0" y2="488.27"/>
<line x1="793.5" y1="488.27" x2="783.0" y2="488.27"/>
<line x1="113.5" y1="483.61" x2="124.0" y2="483.61"/>
<line x1="793.5" y1="483.61" x2="783.0" y2="483.61"/>
<line x1="113.5" y1="479.81" x2="124.0" y2="479.81"/>
<line x1="793.5" y1="479.81" x2="783.0" y2="479.81"/>
<line x1="113.5" y1="476.59" x2="124.0" y2="476.59"/>
<line x1="793.5" y1="476.59" x2="783.0" y2="476.59"/>
<line x1="113.5" y1="473.81" x2="124.0" y2="473.81"/>
<line x1="793.5" y1="473.81" x2="783.0" y2="473.81"/>
<line x1="113.5" y1="471.35" x2="124.0" y2="471.35"/>
<line x1="793.5" y1="471.35" x2="783.0" y2="471.35"/>
<line x1="113.5" y1="469.15" x2="133.8" y2="469.15"/>
<line x1="793.5" y1="469.15" x2="773.2" y2="469.15"/>
<line x1="113.5" y1="454.69" x2="124.0" y2="454.69"/>
<line x1="793.5" y1="454.69" x2="783.0" y2="454.69"/>
<line x1="113.5" y1="446.22" x2="124.0" y2="446.22"/>
<line x1="793.5" y1="446.22" x2="783.0" y2="446.22"/>
<line x1="113.5" y1="440.22" x2="124.0" y2="440.22"/>
<line x1="793.5" y1="440.22" x2="783.0" y2="440.22"/>
<line x1="113.5" y1="435.56" x2="124.0" y2="435.56"/>
<line x1="793.5" y1="435.56" x2="783.0" y2="435.56"/>
<line x1="113.5" y1="431.76" x2="124.0" y2="431.76"/>
<line x1="793.5" y1="431.76" x2="783.0" y2="431.76"/>
<line x1="113.5" y1="428.54" x2="124.0" y2="428.54"/>
<line x1="793.5" y1="428.54" x2="783.0" y2="428.54"/>
<line x1="113.5" y1="425.76" x2="124.0" y2="425.76"/>
<line x1="793.5" y1="425.76" x2="783.0" y2="425.76"/>
<line x1="113.5" y1="423.30" x2="124.0" y2="423.30"/>
<line x1="793.5" y1="423.30" x2="783.0" y2="423.30"/>
<line x1="113.5" y1="421.10" x2="133.8" y2="421.10"/>
<line x1="793.5" y1="421.10" x2="773.2" y2="421.10"/>
<line x1="113.5" y1="406.64" x2="124.0" y2="406.64"/>
<line x1="793.5" y1="406.64" x2="783.0" y2="406.64"/>
<line x1="113.5" y1="398.17" x2="124.0" y2="398.17"/>
<line x1="793.5" y1="398.17" x2="783.0" y2="398.17"/>
<line x1="113.5" y1="392.17" x2="124.0" y2="392.17"/>
<line x1="793.5" y1="392.17" x2="783.0" y2="392.17"/>
<line x1="113.5" y1="387.51" x2="124.0" y2="387.51"/>
<line x1="793.5" y1="387.51" x2="783.0" y2="387.51"/>
<line x1="113.5" y1="383.71" x2="124.0" y2="383.71"/>
<line x1="793.5" y1="383.71" x2="783.0" y2="383.71"/>
<line x1="113.5" y1="380.49" x2="124.0" y2="380.49"/>
<line x1="793.5" y1="380.49" x2="783.0" y2="380.49"/>
<line x1="113.5" y1="377.71" x2="124.0" y2="377.71"/>
<line x1="793.5" y1="377.71" x2="783.0" y2="377.71"/>
<line x1="113.5" y1="375.25" x2="124.0" y2="375.25"/>
<line x1="793.5" y1="375.25" x2="783.0" y2="375.25"/>
<line x1="113.5" y1="373.05" x2="133.8" y2="373.05"/>
<line x1="793.5" y1="373.05" x2="773.2" y2="373.05"/>
<line x1="113.5" y1="358.59" x2="124.0" y2="358.59"/>
<line x1="793.5" y1="358.59" x2="783.0" y2="358.59"/>
<line x1="113.5" y1="350.12" x2="124.0" y2="350.12"/>
<line x1="793.5" y1="350.12" x2="783.0" y2="350.12"/>
<line x1="113.5" y1="344.12" x2="124.0" y2="344.12"/>
<line x1="793.5" y1="344.12" x2="783.0" y2="344.12"/>
<line x1="113.5" y1="339.46" x2="124.0" y2="339.46"/>
<line x1="793.5" y1="339.46" x2="783.0" y2="339.46"/>
<line x1="113.5" y1="335.66" x2="124.0" y2="335.66"/>
<line x1="793.5" y1="335.66" x2="783.0" y2="335.66"/>
<line x1="113.5" y1="332.44" x2="124.0" y2="332.44"/>
<line x1="793.5" y1="332.44" x2="783.0" y2="332.44"/>
<line x1="113.5" y1="329.66" x2="124.0" y2="329.66"/>
<line x1="793.5" y1="329.66" x2="783.0" y2="329.66"/>
<line x1="113.5" y1="327.20" x2="124.0" y2="327.20"/>
<line x1="793.5" y1="327.20" x2="783.0" y2="327.20"/>
<line x1="113.5" y1="325.00" x2="133.8" y2="325.00"/>
<line x1="793.5" y1="325.00" x2="773.2" y2="325.00"/>
<line x1="113.5" y1="310.54" x2="124.0" y2="310.54"/>
<line x1="793.5" y1="310.54" x2="783.0" y2="310.54"/>
<line x1="113.5" y1="302.07" x2="124.0" y2="302.07"/>
<line x1="793.5" y1="302.07" x2="783.0" y2="302.07"/>
<line x1="113.5" y1="296.07" x2="124.0" y2="296.07"/>
<line x1="793.5" y1="296.07" x2="783.0" y2="296.07"/>
<line x1="113.5" y1="291.41" x2="124.0" y2="291.41"/>
<line x1="793.5" y1="291.41" x2="783.0" y2="291.41"/>
<line x1="113.5" y1="287.61" x2="124.0" y2="287.61"/>
<line x1="793.5" y1="287.61" x2="783.0" y2="287.61"/>
<line x1="113.5" y1="284.39" x2="124.0" y2="284.39"/>
<line x1="793.5" y1="284.39" x2="783.0" y2="284.39"/>
<line x1="113.5" y1="281.61" x2="124.0" y2="281.61"/>
<line x1="793.5" y1="281.61" x2="783.0" y2="281.61"/>
<line x1="113.5" y1="279.15" x2="124.0" y2="279.15"/>
<line x1="793.5" y1="279.15" x2="783.0" y2="279.15"/>
<line x1="113.5" y1="276.95" x2="133.8" y2="276.95"/>
<line x1="793.5" y1="276.95" x2="773.2" y2="276.95"/>
<line x1="113.5" y1="262.49" x2="124.0" y2="262.49"/>
<line x1="793.5" y1="262.49" x2="783.0" y2="262.49"/>
<line x1="113.5" y1="254.02" x2="124.0" y2="254.02"/>
<line x1="793.5" y1="254.02" x2="783.0" y2="254.02"/>
<line x1="113.5" y1="248.02" x2="124.0" y2="248.02"/>
<line x1="793.5" y1="248.02" x2="783.0" y2="248.02"/>
<line x1="113.5" y1="243.36" x2="124.0" y2="243.36"/>
<line x1="793.5" y1="243.36" x2="783.0" y2="243.36"/>
<line x1="113.5" y1="239.56" x2="124.0" y2="239.56"/>
<line x1="793.5" y1="239.56" x2="783.0" y2="239.56"/>
<line x1="113.5" y1="236.34" x2="124.0" y2="236.34"/>
<line x1="793.5" y1="236.34" x2="783.0" y2="236.34"/>
<line x1="113.5" y1="233.56" x2="124.0" y2="233.56"/>
<line x1="793.5" y1="233.56" x2="783.0" y2="233.56"/>
<line x1="113.5" y1="231.10" x2="124.0" y2="231.10"/>
<line x1="793.5" y1="231.10" x2="783.0" y2="231.10"/>
<line x1="113.5" y1="228.90" x2="133.8" y2="228.90"/>
<line x1="793.5" y1="228.90" x2="773.2" y2="228.90"/>
<line x1="113.5" y1="214.44" x2="124.0" y2="214.44"/>
<line x1="793.5" y1="214.44" x2="783.0" y2="214.44"/>
<line x1="113.5" y1="205.97" x2="124.0" y2="205.97"/>
<line x1="793.5" y1="205.97" x2="783.0" y2="205.97"/>
<line x1="113.5" y1="199.97" x2="124.0" y2="199.97"/>
<line x1="793.5" y1="199.97" x2="783.0" y2="199.97"/>
<line x1="113.5" y1="195.31" x2="124.0" y2="195.31"/>
<line x1="793.5" y1="195.31" x2="783.0" y2="195.31"/>
<line x1="113.5" y1="191.51" x2="124.0" y2="191.51"/>
<line x1="793.5" y1="191.51" x2="783.0" y2="191.51"/>
<line x1="113.5" y1="188.29" x2="124.0" y2="188.29"/>
<line x1="793.5" y1="188.29" x2="783.0" y2="188.29"/>
<line x1="113.5" y1="185.51" x2="124.0" y2="185.51"/>
<line x1="793.5" y1="185.51" x2="783.0" y2="185.51"/>
<line x1="113.5" y1="183.05" x2="124.0" y2="183.05"/>
<line x1="793.5" y1="183.05" x2="783.0" y2="183.05"/>
<line x1="113.5" y1="180.85" x2="133.8" y2="180.85"/>
<line x1="793.5" y1="180.85" x2="773.2" y2="180.85"/>
<line x1="113.5" y1="166.39" x2="124.0" y2="166.39"/>
<line x1="793.5" y1="166.39" x2="783.0" y2="166.39"/>
<line x1="113.5" y1="157.92" x2="124.0" y2="157.92"/>
<line x1="793.5" y1="157.92" x2="783.0" y2="157.92"/>
<line x1="113.5" y1="151.92" x2="124.0" y2="151.92"/>
<line x1="793.5" y1="151.92" x2="783.0" y2="151.92"/>
<line x1="113.5" y1="147.26" x2="124.0" y2="147.26"/>
<line x1="793.5" y1="147.26" x2="783.0" y2="147.26"/>
<line x1="113.5" y1="143.46" x2="124.0" y2="143.46"/>
<line x1="793.5" y1="143.46" x2="783.0" y2="143.46"/>
<line x1="113.5" y1="140.24" x2="124.0" y2="140.24"/>
<line x1="793.5" y1="140.24" x2="783.0" y2="140.24"/>
<line x1="113.5" y1="137.46" x2="124.0" y2="137.46"/>
<line x1="793.5" y1="137.46" x2="783.0" y2="137.46"/>
<line x1="113.5" y1="135.00" x2="124.0" y2="135.00"/>
<line x1="793.5" y1="135.00" x2="783.0" y2="135.00"/>
<line x1="113.5" y1="132.80" x2="133.8" y2="132.80"/>
<line x1="793.5" y1="132.80" x2="773.2" y2="132.80"/>
<line x1="113.5" y1="118.34" x2="124.0" y2="118.34"/>
<line x1="793.5" y1="118.34" x2="783.0" y2="118.34"/>
<line x1="113.5" y1="109.87" x2="124.0" y2="109.87"/>
<line x1="793.5" y1="109.87" x2="783.0" y2="109.87"/>
<line x1="113.5" y1="103.87" x2="124.0" y2="103.87"/>
<line x1="793.5" y1="103.87" x2="783.0" y2="103.87"/>
<line x1="113.5" y1="99.21" x2="124.0" y2="99.21"/>
<line x1="793.5" y1="99.21" x2="783.0" y2="99.21"/>
<line x1="113.5" y1="95.41" x2="124.0" y2="95.41"/>
<line x1="793.5" y1="95.41" x2="783.0" y2="95.41"/>
<line x1="113.5" y1="92.19" x2="124.0" y2="92.19"/>
<line x1="793.5" y1="92.19" x2="783.0" y2="92.19"/>
<line x1="113.5" y1="89.41" x2="124.0" y2="89.41"/>
<line x1="793.5" y1="89.41" x2="783.0" y2="89.41"/>
<rect x="113.5" y="88.5" width="680.0" height="486.0" stroke-width="1.1"/>
</g>
<g stroke="#000" stroke-width="0.3">
<text x="100.3" y="601.4" font-size="24.5" textLength="27" lengthAdjust="spacingAndGlyphs">10</text>
<text x="128.0" y="588.4" font-size="10.2">−</text>
<text x="135.8" y="589.1" font-size="14" textLength="14.2" lengthAdjust="spacingAndGlyphs">12</text>
<text x="154.9" y="601.4" font-size="24.5" textLength="27" lengthAdjust="spacingAndGlyphs">10</text>
<text x="182.6" y="588.4" font-size="10.2">−</text>
<text x="190.4" y="589.1" font-size="14" textLength="14.2" lengthAdjust="spacingAndGlyphs">11</text>
<text x="210.8" y="601.4" font-size="24.5" textLength="27" lengthAdjust="spacingAndGlyphs">10</text>
<text x="238.4" y="588.4" font-size="10.2">−</text>
<text x="246.2" y="589.1" font-size="14" textLength="14.2" lengthAdjust="spacingAndGlyphs">10</text>
<text x="268.0" y="601.4" font-size="24.5" textLength="27" lengthAdjust="spacingAndGlyphs">10</text>
<text x="294.2" y="588.4" font-size="10.2">−</text>
<text x="301.0" y="589.1" font-size="14" textLength="7.1" lengthAdjust="spacingAndGlyphs">9</text>
<text x="322.4" y="601.4" font-size="24.5" textLength="27" lengthAdjust="spacingAndGlyphs">10</text>
<text x="348.6" y="588.4" font-size="10.2">−</text>
<text x="355.4" y="589.1" font-size="14" textLength="7.1" lengthAdjust="spacingAndGlyphs">8</text>
<text x="376.8" y="601.4" font-size="24.5" textLength="27" lengthAdjust="spacingAndGlyphs">10</text>
<text x="403.1" y="588.4" font-size="10.2">−</text>
<text x="409.8" y="589.1" font-size="14" textLength="7.1" lengthAdjust="spacingAndGlyphs">7</text>
<text x="431.3" y="601.4" font-size="24.5" textLength="27" lengthAdjust="spacingAndGlyphs">10</text>
<text x="457.5" y="588.4" font-size="10.2">−</text>
<text x="464.3" y="589.1" font-size="14" textLength="7.1" lengthAdjust="spacingAndGlyphs">6</text>
<text x="485.7" y="601.4" font-size="24.5" textLength="27" lengthAdjust="spacingAndGlyphs">10</text>
<text x="511.9" y="588.4" font-size="10.2">−</text>
<text x="518.7" y="589.1" font-size="14" textLength="7.1" lengthAdjust="spacingAndGlyphs">5</text>
<text x="540.1" y="601.4" font-size="24.5" textLength="27" lengthAdjust="spacingAndGlyphs">10</text>
<text x="566.4" y="588.4" font-size="10.2">−</text>
<text x="573.1" y="589.1" font-size="14" textLength="7.1" lengthAdjust="spacingAndGlyphs">4</text>
<text x="594.5" y="601.4" font-size="24.5" textLength="27" lengthAdjust="spacingAndGlyphs">10</text>
<text x="620.8" y="588.4" font-size="10.2">−</text>
<text x="627.5" y="589.1" font-size="14" textLength="7.1" lengthAdjust="spacingAndGlyphs">3</text>
<text x="649.0" y="601.4" font-size="24.5" textLength="27" lengthAdjust="spacingAndGlyphs">10</text>
<text x="675.2" y="588.4" font-size="10.2">−</text>
<text x="682.0" y="589.1" font-size="14" textLength="7.1" lengthAdjust="spacingAndGlyphs">2</text>
<text x="703.4" y="601.4" font-size="24.5" textLength="27" lengthAdjust="spacingAndGlyphs">10</text>
<text x="729.6" y="588.4" font-size="10.2">−</text>
<text x="736.4" y="589.1" font-size="14" textLength="7.1" lengthAdjust="spacingAndGlyphs">1</text>
<text x="778.9" y="601.4" font-size="24.5" text-anchor="middle">1</text>
<text x="747.1" y="80.3" font-size="24.5" textLength="27" lengthAdjust="spacingAndGlyphs">10</text>
<text x="776.7" y="68.0" font-size="14" textLength="7.1" lengthAdjust="spacingAndGlyphs">7</text>
<text x="692.7" y="80.3" font-size="24.5" textLength="27" lengthAdjust="spacingAndGlyphs">10</text>
<text x="722.3" y="68.0" font-size="14" textLength="7.1" lengthAdjust="spacingAndGlyphs">8</text>
<text x="638.3" y="80.3" font-size="24.5" textLength="27" lengthAdjust="spacingAndGlyphs">10</text>
<text x="667.9" y="68.0" font-size="14" textLength="7.1" lengthAdjust="spacingAndGlyphs">9</text>
<text x="579.5" y="80.3" font-size="24.5" textLength="27" lengthAdjust="spacingAndGlyphs">10</text>
<text x="605.4" y="68.0" font-size="14" textLength="14.2" lengthAdjust="spacingAndGlyphs">10</text>
<text x="525.1" y="80.3" font-size="24.5" textLength="27" lengthAdjust="spacingAndGlyphs">10</text>
<text x="551.0" y="68.0" font-size="14" textLength="14.2" lengthAdjust="spacingAndGlyphs">11</text>
<text x="470.7" y="80.3" font-size="24.5" textLength="27" lengthAdjust="spacingAndGlyphs">10</text>
<text x="496.6" y="68.0" font-size="14" textLength="14.2" lengthAdjust="spacingAndGlyphs">12</text>
<text x="416.2" y="80.3" font-size="24.5" textLength="27" lengthAdjust="spacingAndGlyphs">10</text>
<text x="442.1" y="68.0" font-size="14" textLength="14.2" lengthAdjust="spacingAndGlyphs">13</text>
<text x="361.8" y="80.3" font-size="24.5" textLength="27" lengthAdjust="spacingAndGlyphs">10</text>
<text x="387.7" y="68.0" font-size="14" textLength="14.2" lengthAdjust="spacingAndGlyphs">14</text>
<text x="307.4" y="80.3" font-size="24.5" textLength="27" lengthAdjust="spacingAndGlyphs">10</text>
<text x="333.3" y="68.0" font-size="14" textLength="14.2" lengthAdjust="spacingAndGlyphs">15</text>
<text x="253.0" y="80.3" font-size="24.5" textLength="27" lengthAdjust="spacingAndGlyphs">10</text>
<text x="278.9" y="68.0" font-size="14" textLength="14.2" lengthAdjust="spacingAndGlyphs">16</text>
<text x="198.5" y="80.3" font-size="24.5" textLength="27" lengthAdjust="spacingAndGlyphs">10</text>
<text x="224.4" y="68.0" font-size="14" textLength="14.2" lengthAdjust="spacingAndGlyphs">17</text>
<text x="144.1" y="80.3" font-size="24.5" textLength="27" lengthAdjust="spacingAndGlyphs">10</text>
<text x="170.0" y="68.0" font-size="14" textLength="14.2" lengthAdjust="spacingAndGlyphs">18</text>
<text x="89.7" y="80.3" font-size="24.5" textLength="27" lengthAdjust="spacingAndGlyphs">10</text>
<text x="115.6" y="68.0" font-size="14" textLength="14.2" lengthAdjust="spacingAndGlyphs">19</text>
<text x="55.0" y="577.5" font-size="24.5" textLength="27" lengthAdjust="spacingAndGlyphs">10</text>
<text x="82.7" y="564.5" font-size="10.2">−</text>
<text x="90.5" y="565.2" font-size="14" textLength="14.2" lengthAdjust="spacingAndGlyphs">19</text>
<text x="55.0" y="529.1" font-size="24.5" textLength="27" lengthAdjust="spacingAndGlyphs">10</text>
<text x="82.7" y="516.1" font-size="10.2">−</text>
<text x="90.5" y="516.8" font-size="14" textLength="14.2" lengthAdjust="spacingAndGlyphs">18</text>
<text x="55.0" y="480.8" font-size="24.5" textLength="27" lengthAdjust="spacingAndGlyphs">10</text>
<text x="82.7" y="467.8" font-size="10.2">−</text>
<text x="90.5" y="468.4" font-size="14" textLength="14.2" lengthAdjust="spacingAndGlyphs">17</text>
<text x="55.0" y="432.4" font-size="24.5" textLength="27" lengthAdjust="spacingAndGlyphs">10</text>
<text x="82.7" y="419.4" font-size="10.2">−</text>
<text x="90.5" y="420.1" font-size="14" textLength="14.2" lengthAdjust="spacingAndGlyphs">16</text>
<text x="55.0" y="384.1" font-size="24.5" textLength="27" lengthAdjust="spacingAndGlyphs">10</text>
<text x="82.7" y="371.1" font-size="10.2">−</text>
<text x="90.5" y="371.8" font-size="14" textLength="14.2" lengthAdjust="spacingAndGlyphs">15</text>
<text x="55.0" y="335.7" font-size="24.5" textLength="27" lengthAdjust="spacingAndGlyphs">10</text>
<text x="82.7" y="322.7" font-size="10.2">−</text>
<text x="90.5" y="323.4" font-size="14" textLength="14.2" lengthAdjust="spacingAndGlyphs">14</text>
<text x="55.0" y="287.4" font-size="24.5" textLength="27" lengthAdjust="spacingAndGlyphs">10</text>
<text x="82.7" y="274.4" font-size="10.2">−</text>
<text x="90.5" y="275.1" font-size="14" textLength="14.2" lengthAdjust="spacingAndGlyphs">13</text>
<text x="55.0" y="239.0" font-size="24.5" textLength="27" lengthAdjust="spacingAndGlyphs">10</text>
<text x="82.7" y="226.0" font-size="10.2">−</text>
<text x="90.5" y="226.7" font-size="14" textLength="14.2" lengthAdjust="spacingAndGlyphs">12</text>
<text x="55.0" y="190.7" font-size="24.5" textLength="27" lengthAdjust="spacingAndGlyphs">10</text>
<text x="82.7" y="177.7" font-size="10.2">−</text>
<text x="90.5" y="178.3" font-size="14" textLength="14.2" lengthAdjust="spacingAndGlyphs">11</text>
<text x="55.0" y="142.3" font-size="24.5" textLength="27" lengthAdjust="spacingAndGlyphs">10</text>
<text x="82.7" y="129.3" font-size="10.2">−</text>
<text x="90.5" y="130.0" font-size="14" textLength="14.2" lengthAdjust="spacingAndGlyphs">10</text>
</g>
<g font-family="'Liberation Serif', 'DejaVu Serif', serif">
<text x="364.2" y="37.4" font-size="29" font-style="italic" textLength="10" lengthAdjust="spacingAndGlyphs">f</text>
<text x="378" y="41.3" font-size="20" font-style="italic">a</text>
<text x="389.8" y="39.4" font-size="34">[</text>
<text x="397.5" y="37.4" font-size="29" textLength="52.2" lengthAdjust="spacingAndGlyphs">GeV</text>
<text x="447.4" y="39.4" font-size="34">]</text>
<text x="374.2" y="637" font-size="27" font-style="italic" textLength="24.3" lengthAdjust="spacingAndGlyphs">m</text>
<text x="399.3" y="641.3" font-size="20" font-style="italic">a</text>
<text x="411.7" y="639.4" font-size="34">[</text>
<text x="419.3" y="637" font-size="29" textLength="30.8" lengthAdjust="spacingAndGlyphs">eV</text>
<text x="447.4" y="639.4" font-size="34">]</text>
<g transform="translate(33.8 401.3) rotate(-90)">
<text x="0" y="0" font-size="29" font-style="italic">g</text>
<text x="16.5" y="4.2" font-size="20" font-style="italic">aγ</text>
<text x="35.6" y="2" font-size="34">[</text>
<text x="42.3" y="0" font-size="29" textLength="52.5" lengthAdjust="spacingAndGlyphs">GeV</text>
<text x="98.6" y="-12" font-size="20">−1</text>
<text x="123.2" y="2" font-size="34">]</text>
</g>
</g>
</svg>
</body></html>
